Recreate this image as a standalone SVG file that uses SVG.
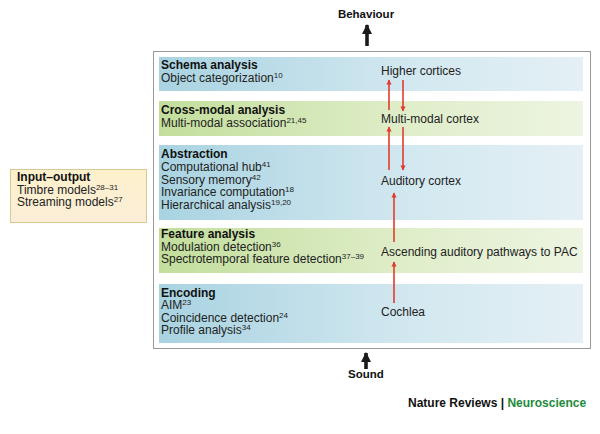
<svg xmlns="http://www.w3.org/2000/svg" width="600" height="434" viewBox="0 0 600 434">
<defs>
<linearGradient id="gBlue" x1="0" y1="0" x2="1" y2="0">
<stop offset="0" stop-color="#a9d3e1"/><stop offset="0.6" stop-color="#d3e8f0"/><stop offset="1" stop-color="#e4f0f5"/>
</linearGradient>
<linearGradient id="gGreen" x1="0" y1="0" x2="1" y2="0">
<stop offset="0" stop-color="#c3de9c"/><stop offset="0.6" stop-color="#e0eecb"/><stop offset="1" stop-color="#edf4e1"/>
</linearGradient>
<linearGradient id="gYellow" x1="0" y1="0" x2="0" y2="1">
<stop offset="0" stop-color="#fdf1cc"/><stop offset="1" stop-color="#fbeed8"/>
</linearGradient>
<marker id="red" viewBox="0 0 10 10" refX="9" refY="5" markerWidth="3.2" markerHeight="3.2" orient="auto" markerUnits="strokeWidth">
<path d="M0,0 L10,5 L0,10 Z" fill="#e23b2e"/>
</marker>
<marker id="blk" viewBox="0 0 10 10" refX="9" refY="5" markerWidth="2.8" markerHeight="2.8" orient="auto" markerUnits="strokeWidth">
<path d="M0,0 L10,5 L0,10 Z" fill="#1a1a1a"/>
</marker>
</defs>
<style>
text{font-family:"Liberation Sans",Arial,sans-serif;font-size:12px;fill:#222}
.b{font-weight:bold;fill:#111}
.s{font-size:8px}
.r{stroke:#e23b2e;stroke-width:1.6;fill:none;marker-end:url(#red)}
.k{stroke:#1a1a1a;stroke-width:3.6;fill:none;marker-end:url(#blk)}
</style>
<rect x="0" y="0" width="600" height="434" fill="#fff"/>
<rect x="153.5" y="51.5" width="437" height="297" fill="#fff" stroke="#9a9a9a" stroke-width="1"/>

<g id="schema">
<rect x="159" y="57" width="424" height="34" fill="url(#gBlue)"/>
<text class="b" x="161" y="68.5">Schema analysis</text>
<text x="161" y="81.5">Object categorization<tspan class="s" dy="-4">10</tspan></text>
<text x="381" y="75">Higher cortices</text>
</g>
<g id="crossmodal">
<rect x="159" y="101" width="424" height="35" fill="url(#gGreen)"/>
<text class="b" x="161" y="113.5">Cross-modal analysis</text>
<text x="161" y="126.5">Multi-modal association<tspan class="s" dy="-4">21,45</tspan></text>
<text x="381" y="123">Multi-modal cortex</text>
</g>
<g id="abstraction">
<rect x="159" y="145" width="424" height="75" fill="url(#gBlue)"/>
<text class="b" x="161" y="158">Abstraction</text>
<text x="161" y="171">Computational hub<tspan class="s" dy="-4">41</tspan></text>
<text x="161" y="183.5">Sensory memory<tspan class="s" dy="-4">42</tspan></text>
<text x="161" y="196">Invariance computation<tspan class="s" dy="-4">18</tspan></text>
<text x="161" y="208.5">Hierarchical analysis<tspan class="s" dy="-4">19,20</tspan></text>
<text x="381" y="185">Auditory cortex</text>
</g>
<g id="feature">
<rect x="159" y="228" width="424" height="45" fill="url(#gGreen)"/>
<text class="b" x="161" y="238">Feature analysis</text>
<text x="161" y="250.5">Modulation detection<tspan class="s" dy="-4">36</tspan></text>
<text x="161" y="263">Spectrotemporal feature detection<tspan class="s" dy="-4">37–39</tspan></text>
<text x="381" y="256">Ascending auditory pathways to PAC</text>
</g>
<g id="encoding">
<rect x="159" y="284" width="424" height="59" fill="url(#gBlue)"/>
<text class="b" x="161" y="296.5">Encoding</text>
<text x="161" y="309">AIM<tspan class="s" dy="-4">23</tspan></text>
<text x="161" y="321.5">Coincidence detection<tspan class="s" dy="-4">24</tspan></text>
<text x="161" y="334">Profile analysis<tspan class="s" dy="-4">34</tspan></text>
<text x="381" y="316">Cochlea</text>
</g>
<g id="inputoutput">
<rect x="10.5" y="169.5" width="136" height="53" fill="url(#gYellow)" stroke="#d8c896" stroke-width="1"/>
<text class="b" x="17" y="181">Input–output</text>
<text x="17" y="193.5">Timbre models<tspan class="s" dy="-4">28–31</tspan></text>
<text x="17" y="206">Streaming models<tspan class="s" dy="-4">27</tspan></text>
</g>
<g id="behaviour">
<text class="b" x="366" y="18" text-anchor="middle" style="font-size:11.5px">Behaviour</text>
</g>
<g id="sound">
<text class="b" x="366" y="378" text-anchor="middle" style="font-size:11.5px">Sound</text>
</g>
<g id="connectors">
<line class="r" x1="389" y1="110" x2="389" y2="80"/>
<line class="r" x1="403" y1="80" x2="403" y2="111"/>
<line class="r" x1="389" y1="170" x2="389" y2="127"/>
<line class="r" x1="403" y1="127" x2="403" y2="170"/>
<line class="r" x1="394" y1="242" x2="394" y2="193"/>
<line class="r" x1="394" y1="303" x2="394" y2="262"/>
<line class="k" x1="367" y1="46" x2="367" y2="25"/>
<line class="k" x1="366" y1="369" x2="366" y2="353"/>
</g>
<text class="b" x="408" y="407">Nature Reviews | <tspan fill="#1e8a3c">Neuroscience</tspan></text>
</svg>
